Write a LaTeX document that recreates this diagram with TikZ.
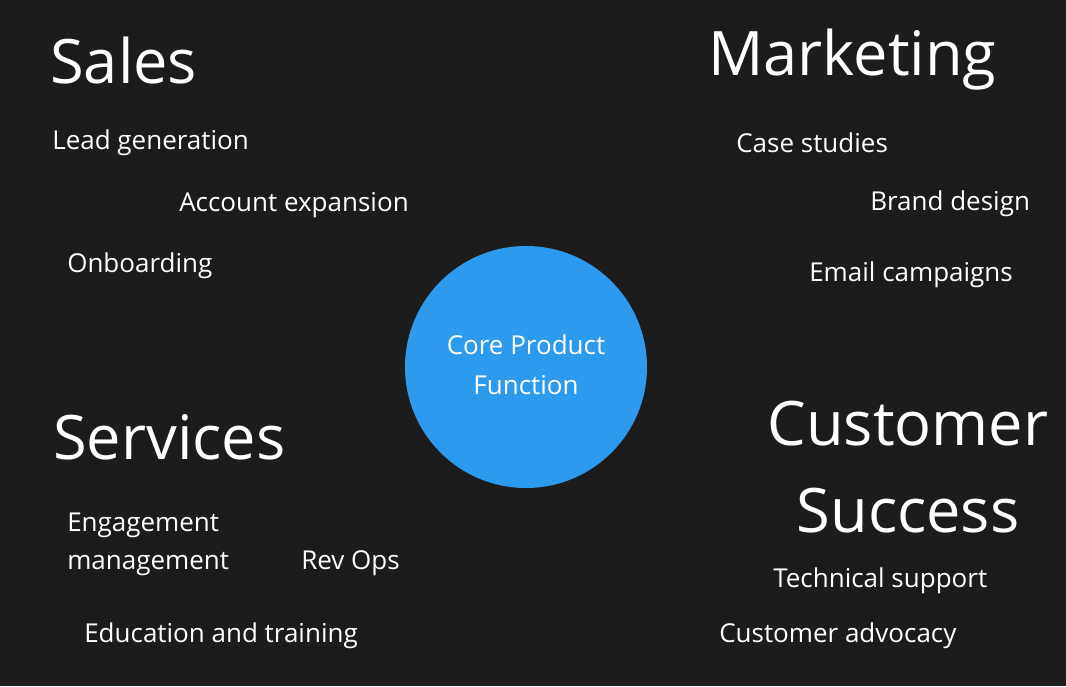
\documentclass[tikz,border=0pt]{standalone}
\usepackage{fontspec}
\setmainfont{Open Sans}
\definecolor{bg}{HTML}{1C1C1C}
\definecolor{blue}{HTML}{2E9AED}
\begin{document}
\begin{tikzpicture}[x=0.75pt,y=-0.75pt,
  small/.style={anchor=west,inner sep=0pt,text=white,font=\fontsize{19.5}{24}\selectfont},
  big/.style={anchor=west,inner sep=0pt,text=white,font=\fontsize{46}{56}\selectfont}]
\fill[bg] (0,0) rectangle (1066,686);
\useasboundingbox (0,0) rectangle (1066,686);
\node[circle,fill=blue,minimum size=242*0.75pt,inner sep=0pt] (core) at (526,367) {};
\node[text=white,align=center,font=\fontsize{19.5}{30}\selectfont] (coretext) at (526,365) {Core Product\\Function};
\node[big] (sales) at (50,60) {Sales};
\node[big] (mkt) at (708,60) {Marketing};
\node[big] (serv) at (53,437) {Services};
\node[text=white,align=center,inner sep=0pt,font=\fontsize{46}{65}\selectfont] (cs) at (908,467) {Customer\\Success};
\node[small] (a1) at (52,143) {Lead generation};
\node[small] (a2) at (179,205) {Account expansion};
\node[small] (a3) at (67,266) {Onboarding};
\node[small] (b1) at (736,143) {Case studies};
\node[small] (b2) at (870,204) {Brand design};
\node[small] (b3) at (809,275) {Email campaigns};
\node[small,align=left,font=\fontsize{19.5}{28.5}\selectfont] (c1) at (67,544) {Engagement\\management};
\node[small] (c2) at (301,563) {Rev Ops};
\node[small] (c3) at (84,636) {Education and training};
\node[small] (d1) at (773,581) {Technical support};
\node[small] (d2) at (719,636) {Customer advocacy};
\end{tikzpicture}
\end{document}
